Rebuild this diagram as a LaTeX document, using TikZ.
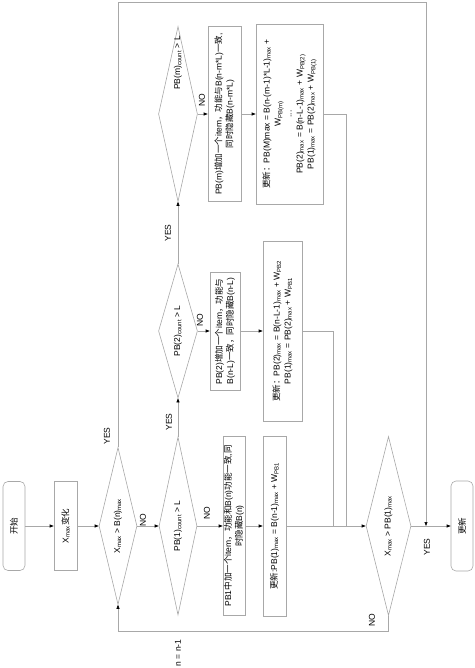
\documentclass[tikz,border=0pt]{standalone}
\usepackage{fontspec}
\setmainfont{Liberation Sans}
\newfontfamily\cjk{Noto Sans CJK SC}
\usetikzlibrary{shapes.geometric,arrows.meta}
\definecolor{ln}{HTML}{A8A8A8}
\newcommand{\zh}[1]{{\cjk #1}}
\newcommand{\dn}[1]{\textsubscript{#1}}

\begin{document}
\begin{tikzpicture}[x=1pt, y=-1pt,
    every node/.style={rotate=90, font=\fontsize{8.5}{11}\selectfont, inner sep=1pt},
    box/.style={rectangle, draw=ln, line width=.6pt, align=center},
    term/.style={box, rounded corners=5pt},
    dec/.style={diamond, draw=ln, line width=.6pt, shape aspect=4, inner sep=0pt},
    lab/.style={font=\fontsize{8.5}{10}\selectfont},
    arr/.style={draw=ln, line width=.6pt, -{Triangle[length=4pt, width=3pt, color=black]}},
    line/.style={draw=ln, line width=.6pt}]
\useasboundingbox (0,0) rectangle (474,668);

% main row
\node[term, minimum width=89pt, minimum height=22pt] (start) at (14,526) {\zh{开始}};
\node[box, minimum width=89pt, minimum height=23pt] (xvar) at (65.5,526) {X\dn{max}\zh{变化}};
\node[dec, minimum width=157pt, minimum height=38pt] (d1) at (118,526) {X\dn{max} > B(n)\dn{max}};
\node[dec, minimum width=178pt, minimum height=38pt] (d2) at (178,526) {PB(1)\dn{count} > L};
\node[box, minimum width=179pt, minimum height=22pt] (b1) at (234,526)
    {PB1\zh{中加一个}item\zh{，功能和}B(n)\zh{功能一致},\zh{同}\\\zh{时隐藏}B(n)};
\node[box, minimum width=180pt, minimum height=23pt] (u1) at (274.5,526)
    {\zh{更新}:PB(1)\dn{max} = B(n-1)\dn{max} + W\dn{PB1}};
\node[dec, minimum width=179pt, minimum height=45pt] (d3) at (388.5,526) {X\dn{max} > PB(1)\dn{max}};
\node[term, minimum width=90pt, minimum height=22pt] (upd) at (462,526) {\zh{更新}};

% PB(2) row
\node[dec, minimum width=134pt, minimum height=39pt] (d4) at (178,331) {PB(2)\dn{count} > L};
\node[box, minimum width=118pt, minimum height=30pt, align=left] (b2) at (225,331)
    {PB(2)\zh{增加一个}item\zh{，功能与}\\B(n-L)\zh{一致，同时隐藏}B(n-L)};
\node[box, minimum width=180pt, minimum height=39pt] (u2) at (282.5,331)
    {\zh{更新：}PB(2)\dn{max} = B(n-L-1)\dn{max} + W\dn{PB2}\\PB(1)\dn{max} = PB(2)\dn{max} + W\dn{PB1}};

% PB(m) row
\node[dec, minimum width=175pt, minimum height=39pt] (d5) at (178,114)
    {\makebox[0pt]{\hspace*{102pt}PB(m)\dn{count} > L}};
\node[box, minimum width=175pt, minimum height=33pt] (bm) at (224.5,114)
    {PB(m)\zh{增加一个}item\zh{，功能与}B(n-m*L)\zh{一致},\\\zh{同时隐藏}B(n-m*L)};
\node[box, minimum width=180pt, minimum height=67pt] (um) at (289.5,114)
    {\zh{更新：}PB(M)max = B(n-(m-1)*L-1)\dn{max} +\\W\dn{PB(m)}\\...\\
     PB(2)\dn{max} = B(n-L-1)\dn{max} + W\dn{PB(2)}\\PB(1)\dn{max} = PB(2)\dn{max} + W\dn{PB(1)}};

% labels
\node[lab] (no1) at (143,520) {NO};
\node[lab] (no2) at (207,513) {NO};
\node[lab] (no3) at (200,320) {NO};
\node[lab] (no4) at (202,100) {NO};
\node[lab] (no5) at (372,620) {NO};
\node[lab] (yes1) at (107,436) {YES};
\node[lab] (yes2) at (169,422) {YES};
\node[lab] (yes3) at (168,233) {YES};
\node[lab] (yes4) at (427,547) {YES};
\node[lab] (step1) at (178,653) {n = n-1};

% connectors
\draw[arr] (start) -- (xvar);
\draw[arr] (xvar) -- (d1);
\draw[arr] (d1) -- (d2);
\draw[arr] (d2) -- (b1);
\draw[arr] (b1) -- (u1);
\draw[arr] (u1) -- (d3);
\draw[arr] (d3) -- (upd);
\draw[arr] (d2) -- (d4);
\draw[arr] (d4) -- (b2);
\draw[arr] (b2) -- (u2);
\draw[arr] (d4) -- (d5);
\draw[arr] (d5) -- (bm);
\draw[arr] (bm) -- (um);

\coordinate (top) at (426,2);
\coordinate (j2) at (333,526);
\coordinate (jm) at (346,526);
\coordinate (lp) at (388.5,631);
\draw[arr] (d1.east) |- (top) -- (top |- upd);
\draw[line] (u2.south) -| (j2);
\draw[line] (um.south) -| (jm);
\draw[arr] (d3.west) -- (lp) -| (d1.west);
\end{tikzpicture}
\end{document}
